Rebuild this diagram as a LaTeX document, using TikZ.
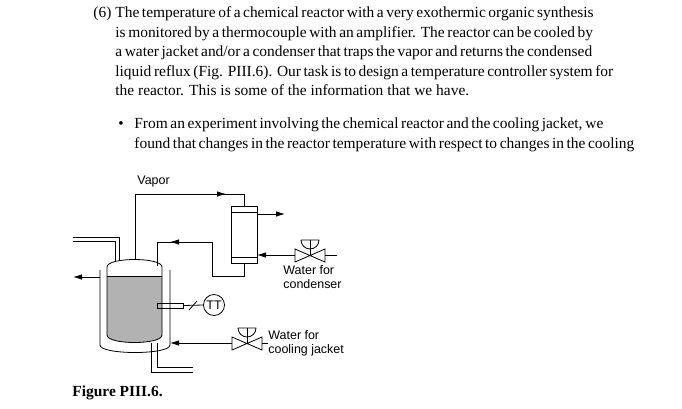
\documentclass[tikz,border=0pt]{standalone}
\usepackage{fontspec}
\setmainfont{Liberation Serif}
\newfontfamily\lab{Liberation Sans}
\usetikzlibrary{arrows.meta}
\begin{document}
\begin{tikzpicture}[x=1bp,y=-1bp,line width=0.8bp,
  arr/.style={-{Latex[length=9bp,width=5.5bp]}},
  lbl/.style={font=\lab\fontsize{12.5}{14}\selectfont,align=left,inner sep=0,anchor=north west},
  txt/.style={font=\fontsize{15.5}{18}\selectfont,inner sep=0,anchor=base west}]
\useasboundingbox (0,0) rectangle (682,408);
% text
\node[txt] at (93,17.5) {(6)};
\node[txt] at (115,17.5) {\makebox[452bp][s]{The temperature of a chemical reactor with a very exothermic organic synthesis}};
\node[txt] at (115,37) {\makebox[452bp][s]{is monitored by a thermocouple with an amplifier. The reactor can be cooled by}};
\node[txt] at (115,56.5) {\makebox[452bp][s]{a water jacket and/or a condenser that traps the vapor and returns the condensed}};
\node[txt] at (115,76) {\makebox[452bp][s]{liquid reflux (Fig. PIII.6). Our task is to design a temperature controller system for}};
\node[txt] at (115,95.5) {the reactor. This is some of the information that we have.};
\node[txt] at (118,128.5) {\textbullet};
\node[txt] at (134,128.5) {\makebox[433bp][s]{From an experiment involving the chemical reactor and the cooling jacket, we}};
\node[txt] at (134,148) {\makebox[433bp][s]{found that changes in the reactor temperature with respect to changes in the cooling}};
\node[txt] at (72,396) {\bfseries Figure PIII.6.};
% reactor liquid
\fill[gray!60] (107,276) -- (162,276) -- (162,335) .. controls (162,345) and (107,345) .. (107,335) -- cycle;
\draw (107,267) .. controls (107,257) and (162,257) .. (162,267);
\draw (107,276) -- (162,276);
\draw (107,267) -- (107,335) .. controls (107,345) and (162,345) .. (162,335) -- (162,267);
% jacket
\draw (100,270) -- (100,345) .. controls (100,355) and (170,355) .. (170,345) -- (170,270);
% feed pipe
\draw (73,237) -- (119,237) -- (119,261);
\draw (73,241) -- (115,241) -- (115,262);
% jacket outlet
\draw[arr] (100,277) -- (73,277);
% bottom outlet
\draw (151,343) -- (151,372) -- (193,372);
\draw (157,343) -- (157,367) -- (193,367);
% vapor line
\coordinate (vt) at (135,259);
\draw (vt) -- (135,194) -- (244,194) -- (244,206);
\draw[arr] (135,194) -- (226,194);
\node[lbl] at (137,176) {Vapor};
% condenser
\node[draw,minimum width=26bp,minimum height=57bp,inner sep=0] (cond) at (244,234.5) {};
\draw (231,212) -- (257,212);
\draw (231,257) -- (257,257);
\draw[arr] (257,214) -- (285,214);
% return
\draw (cond.south) -- (244,276) -- (212,276) -- (212,242) -- (157,242) -- (157,266);
\draw[arr] (212,242) -- (170,242);
% condenser valve
\draw (295,249) -- (295,262) -- (325,249) -- (325,262) -- cycle;
\draw (310,255.5) -- (310,240);
\draw (301,240) -- (319,240) arc (0:180:9);
\draw (325,255) -- (337,255);
\draw[arr] (295,255) -- (257,255);
\node[lbl] at (283,265) {Water for\\condenser};
% TT
\draw (157,303) rectangle (183,308);
\node[draw,circle,minimum size=21bp,inner sep=0,font=\lab\fontsize{12.5}{14}\selectfont] (tt) at (214,305) {TT};
\draw (183,305.5) -- (tt.west);
\draw (189,310) -- (197,301);
% jacket valve
\draw (232,337) -- (232,350) -- (262,337) -- (262,350) -- cycle;
\draw (247,343.5) -- (247,328);
\draw (238,328) -- (256,328) arc (0:180:9);
\draw (262,343) -- (268,343);
\draw[arr] (232,343) -- (170,343);
\node[lbl] at (268,330) {Water for\\cooling jacket};
\end{tikzpicture}
\end{document}
